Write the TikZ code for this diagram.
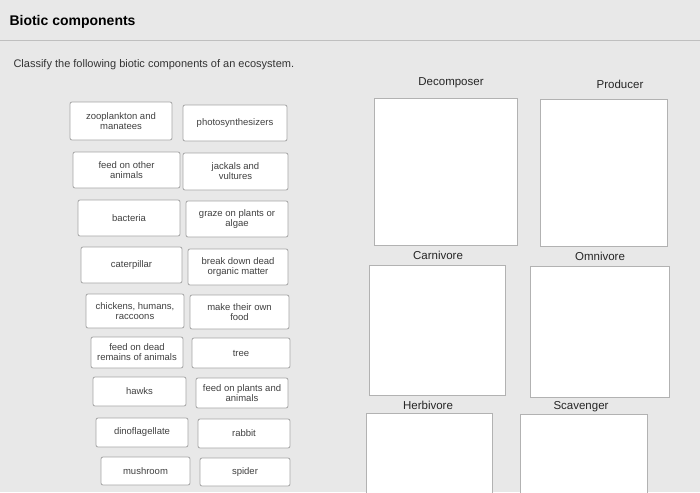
\documentclass[tikz,border=0pt]{standalone}
\usepackage{fontspec}
\setmainfont{Liberation Sans}
\begin{document}
\begin{tikzpicture}[x=1pt,y=-1pt,
  card/.style={draw=gray!70,fill=white,rounded corners=2pt,line width=0.8pt,align=center,font=\fontsize{9.5}{10}\selectfont,text=black!75,inner sep=2pt},
  bin/.style={draw=gray!60,fill=white,line width=0.8pt},
  lab/.style={font=\fontsize{11.5}{12}\selectfont,text=black!85}]
\fill[gray!18] (0,0) rectangle (700,492);
\useasboundingbox (0,0) rectangle (700,492);
\node[anchor=west,font=\bfseries\fontsize{14}{16}\selectfont] (title) at (6,22) {Biotic components};
\draw[gray!50] (0,40) -- (700,40);
\node[anchor=west,font=\fontsize{11}{13}\selectfont,text=black!80] (sub) at (10,65) {Classify the following biotic components of an ecosystem.};
\newcommand{\cardbox}[6]{\node[card,minimum width=#3-#1,minimum height=#4-#2] (#5) at ({(#1+#3)/2},{(#2+#4)/2}) {#6};}
\cardbox{70}{102}{172}{140}{c1}{zooplankton and\\manatees}
\cardbox{183}{105}{287}{141}{c2}{photosynthesizers}
\cardbox{73}{152}{180}{188}{c3}{feed on other\\animals}
\cardbox{183}{153}{288}{190}{c4}{jackals and\\vultures}
\cardbox{78}{200}{180}{236}{c5}{bacteria}
\cardbox{186}{201}{288}{237}{c6}{graze on plants or\\algae}
\cardbox{81}{247}{182}{283}{c7}{caterpillar}
\cardbox{188}{249}{288}{285}{c8}{break down dead\\organic matter}
\cardbox{86}{294}{184}{328}{c9}{chickens, humans,\\raccoons}
\cardbox{190}{295}{289}{329}{c10}{make their own\\food}
\cardbox{91}{337}{183}{368}{c11}{feed on dead\\remains of animals}
\cardbox{192}{338}{290}{368}{c12}{tree}
\cardbox{93}{377}{186}{406}{c13}{hawks}
\cardbox{196}{378}{288}{408}{c14}{feed on plants and\\animals}
\cardbox{96}{418}{188}{447}{c15}{dinoflagellate}
\cardbox{198}{419}{290}{448}{c16}{rabbit}
\cardbox{101}{457}{190}{485}{c17}{mushroom}
\cardbox{200}{458}{290}{486}{c18}{spider}
\node[lab] (l1) at (451,83) {Decomposer};
\draw[bin] (374,98) rectangle (517,245);
\node[lab] (l2) at (620,84) {Producer};
\draw[bin] (540,99) rectangle (667,246);
\node[lab] (l3) at (438,255) {Carnivore};
\draw[bin] (369,265) rectangle (505,395);
\node[lab] (l4) at (600,256) {Omnivore};
\draw[bin] (530,266) rectangle (669,397);
\node[lab] (l5) at (428,405) {Herbivore};
\draw[bin] (366,413) rectangle (492,500);
\node[lab] (l6) at (581,407) {Scavenger};
\draw[bin] (520,414) rectangle (647,500);
\end{tikzpicture}
\end{document}
